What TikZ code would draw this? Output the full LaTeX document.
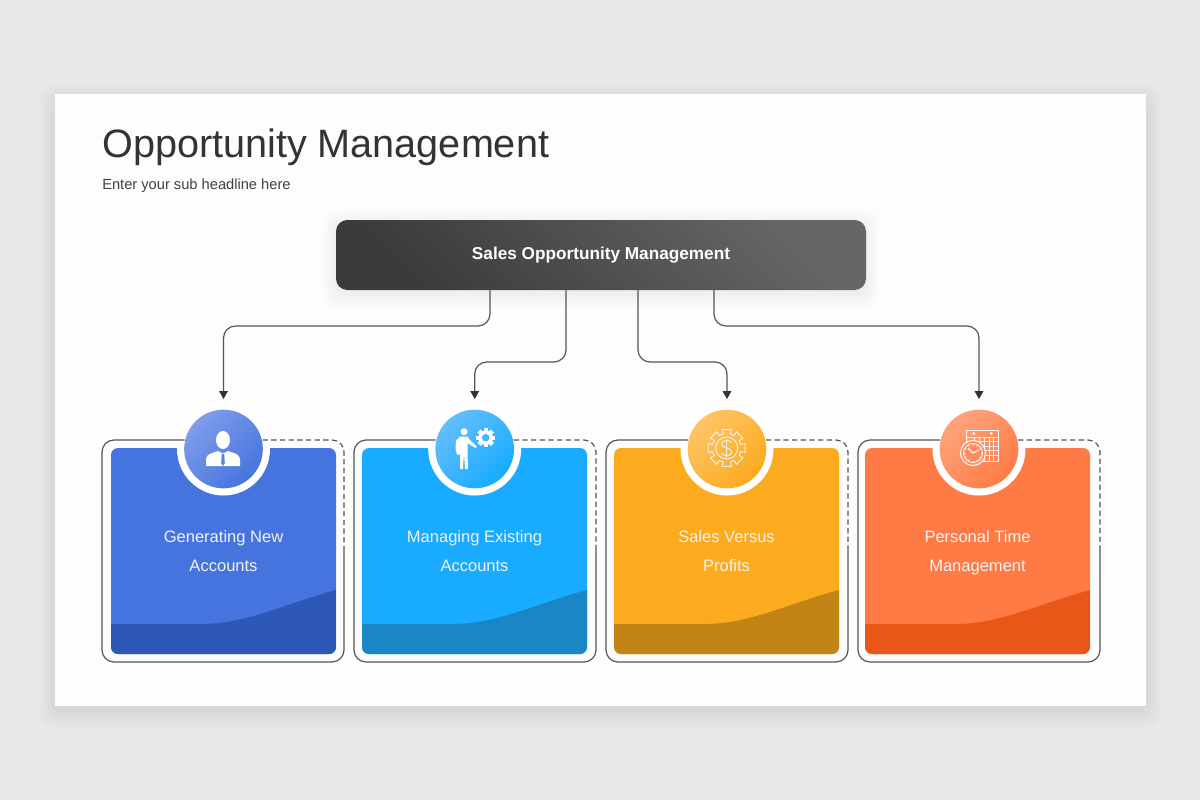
\documentclass[tikz,border=0pt]{standalone}
\usepackage{fontspec}
\setmainfont{Liberation Sans}
\usetikzlibrary{arrows.meta}

\definecolor{backcolor}{HTML}{E9E7E8}
\definecolor{panelcolor}{HTML}{FDFDFD}
\definecolor{inkcolor}{HTML}{555555}
\definecolor{face1}{HTML}{4674DE}
\definecolor{dark1}{HTML}{2D58B5}
\definecolor{glow1}{HTML}{7F9DE9}
\definecolor{face2}{HTML}{18ABFF}
\definecolor{dark2}{HTML}{1A86C6}
\definecolor{glow2}{HTML}{62BEFC}
\definecolor{face3}{HTML}{FCAB1E}
\definecolor{dark3}{HTML}{C38416}
\definecolor{glow3}{HTML}{FDC466}
\definecolor{face4}{HTML}{FF7B45}
\definecolor{dark4}{HTML}{E85718}
\definecolor{glow4}{HTML}{FEA37C}

\begin{document}
\begin{tikzpicture}[x=0.75pt,y=-0.75pt]
  % Styles
  \tikzstyle{title text}=[anchor=base west,inner sep=0pt,text=black!80]
  \tikzstyle{head box}=[minimum width=397.5pt,minimum height=52.5pt,inner sep=0pt,
    rounded corners=8.5pt,top color=black!60,bottom color=black!77,shading angle=-45,
    text=white,font=\bfseries\fontsize{12.9}{16}\selectfont]
  \tikzstyle{link}=[draw=inkcolor,line width=0.9pt,rounded corners=9pt,
    -{Triangle[width=6.5pt,length=6pt,color=black!80]}]
  \tikzstyle{card box}=[minimum width=168.75pt,minimum height=154.5pt,inner sep=0pt,
    rounded corners=5.25pt,text=white!95!black,align=center,
    font=\fontsize{12.4}{21.75}\selectfont]
  \tikzstyle{disc}=[circle,minimum size=59pt,inner sep=0pt]
  \tikzstyle{outline}=[draw=inkcolor,line width=0.9pt,rounded corners=9pt]
  \tikzstyle{icon line}=[draw=white!95!black,line width=0.7pt]
  \tikzstyle{icon fill}=[fill=white]

  % The graphic
  \fill[backcolor] (0,0) rectangle (1200,800);
  \foreach \g in {1,...,16}
    \fill[black,opacity=0.0035,rounded corners=10pt] (55-\g,94-\g+6) rectangle (1146+\g,706+\g+6);
  \fill[panelcolor] (55,94) rectangle (1146,706);

  \node[title text,font=\fontsize{29.7}{36}\selectfont] (title) at (102,157) {Opportunity Management};
  \node[title text,font=\fontsize{11}{13}\selectfont,text=black!75] (subtitle) at (102,189) {Enter your sub headline here};

  \foreach \g in {1,...,14}
    \fill[black,opacity=0.004,rounded corners=10pt] (336-\g,220-\g+4) rectangle (866+\g,290+\g+4);
  \node[head box] (head) at (601,255) {\raisebox{-0.75pt}{Sales Opportunity Management}};

  % The cards
  \foreach \i/\xo/\xi/\cx/\text in {1/102/111/223.5/Generating New\\Accounts,
      2/354/362/474.7/Managing Existing\\Accounts,
      3/606/614/727/Sales Versus\\Profits,
      4/858/865/979/Personal Time\\Management}
  {
    \node[card box,fill=face\i] (card\i) at (\xi+112.5,551) {\strut\text\strut};
    \begin{scope}
      \clip[rounded corners=5.25pt] (\xi,448) rectangle (\xi+225,654);
      \fill[dark\i] (\xi,624) -- (\xi+90,624) .. controls (\xi+135,624) and (\xi+170,605) .. (\xi+225,590)
        -- (\xi+225,654) -- (\xi,654) -- cycle;
    \end{scope}
    \fill[white] (\cx,449) circle (46.5);
    \draw[outline] (\cx-39,440) -- (\xo,440) -- (\xo,662) -- (\xo+242,662) -- (\xo+242,548);
    \draw[outline,dash pattern=on 4pt off 2.5pt] (\cx+39,440) -- (\xo+242,440) -- (\xo+242,548);
    \node[disc,top color=glow\i,bottom color=face\i,shading angle=45] (disc\i) at (\cx,449) {};
  }

  % The connectors
  \foreach \i/\ox/\my/\cx in {1/490/326/223.5, 2/566/362/474.7, 3/638/362/727, 4/714/326/979}
  {
    \coordinate (out\i) at (\ox,290);
    \coordinate (mid\i) at (\cx,\my);
    \coordinate (drop\i) at (\cx,399);
    \draw[link] (out\i) |- (mid\i) -- (drop\i);
  }

  % Icons
  \begin{scope}[shift={(223,0)}]
    \fill[icon fill] (0,440) ellipse (7 and 9);
    \fill[icon fill] (-17,466) -- (-17,459) .. controls (-17,454) and (-10,453) .. (-5,451)
      -- (0,453.5) -- (5,451) .. controls (10,453) and (17,454) .. (17,459) -- (17,466) -- cycle;
    \fill[face1!90!white] (-1.3,454) -- (1.3,454) -- (1.8,463) -- (0,466) -- (-1.8,463) -- cycle;
  \end{scope}

  \begin{scope}[shift={(464,431.7)}]
    \fill[icon fill] (0,0) circle (3.5);
    \fill[icon fill] (-4,5) -- (3.5,5) -- (5.5,8) -- (12.5,14.5) -- (12,16.5) -- (3.5,11.5) -- (3.5,18)
      -- (4,37.5) -- (1,37.5) -- (0,21) -- (-1,37.5) -- (-4,37.5) -- (-4,23) -- (-7,23) -- (-8.5,17) -- (-8,9) -- cycle;
  \end{scope}
  \begin{scope}[shift={(485.7,437.7)}]
    \foreach \a in {0,45,...,315}
      \fill[icon fill,rotate=\a] (-2.2,-9.5) rectangle (2.2,0);
    \fill[icon fill] (0,0) circle (7.2);
    \fill[glow2!60!face2] (0,0) circle (3.8);
  \end{scope}

  \begin{scope}[shift={(726.7,448)}]
    \foreach \a in {0,45,...,315}
      \draw[icon line] (\a-14:14.5) -- (\a-14:19) -- (\a+14:19) -- (\a+14:14.5) -- (\a+31:14.5);
    \draw[icon line] (0,0) circle (11);
    \draw[icon line] (5,-5.5) .. controls (3,-8.5) and (-5,-8.5) .. (-5,-4)
      .. controls (-5,1) and (5,-1) .. (5,4) .. controls (5,8.5) and (-3,8.5) .. (-5,5.5);
    \draw[icon line] (0,-9.5) -- (0,9.5);
  \end{scope}

  \begin{scope}[shift={(966.7,430)}]
    \draw[icon line] (0,0) rectangle (31.5,31.5);
    \foreach \y in {7,11.5,16,20.5,25}
      \draw[icon line] (0,\y) -- (31.5,\y);
    \foreach \x in {8,13,18,23,27}
      \draw[icon line] (\x,7) -- (\x,31.5);
    \fill[icon fill] (7,3.5) circle (1.6) (24.5,3.5) circle (1.6);
  \end{scope}
  \begin{scope}[shift={(973,453)}]
    \fill[glow4!40!face4] (0,0) circle (12.5);
    \draw[icon line,line width=0.9pt] (0,0) circle (12.5);
    \draw[icon line] (0,0) circle (9.5);
    \draw[icon line,line width=0.9pt] (-5,-5) -- (0,0) -- (6,-3);
    \foreach \a in {0,30,...,330}
      \draw[icon line] (\a:7.5) -- (\a:9.5);
  \end{scope}
\end{tikzpicture}
\end{document}
